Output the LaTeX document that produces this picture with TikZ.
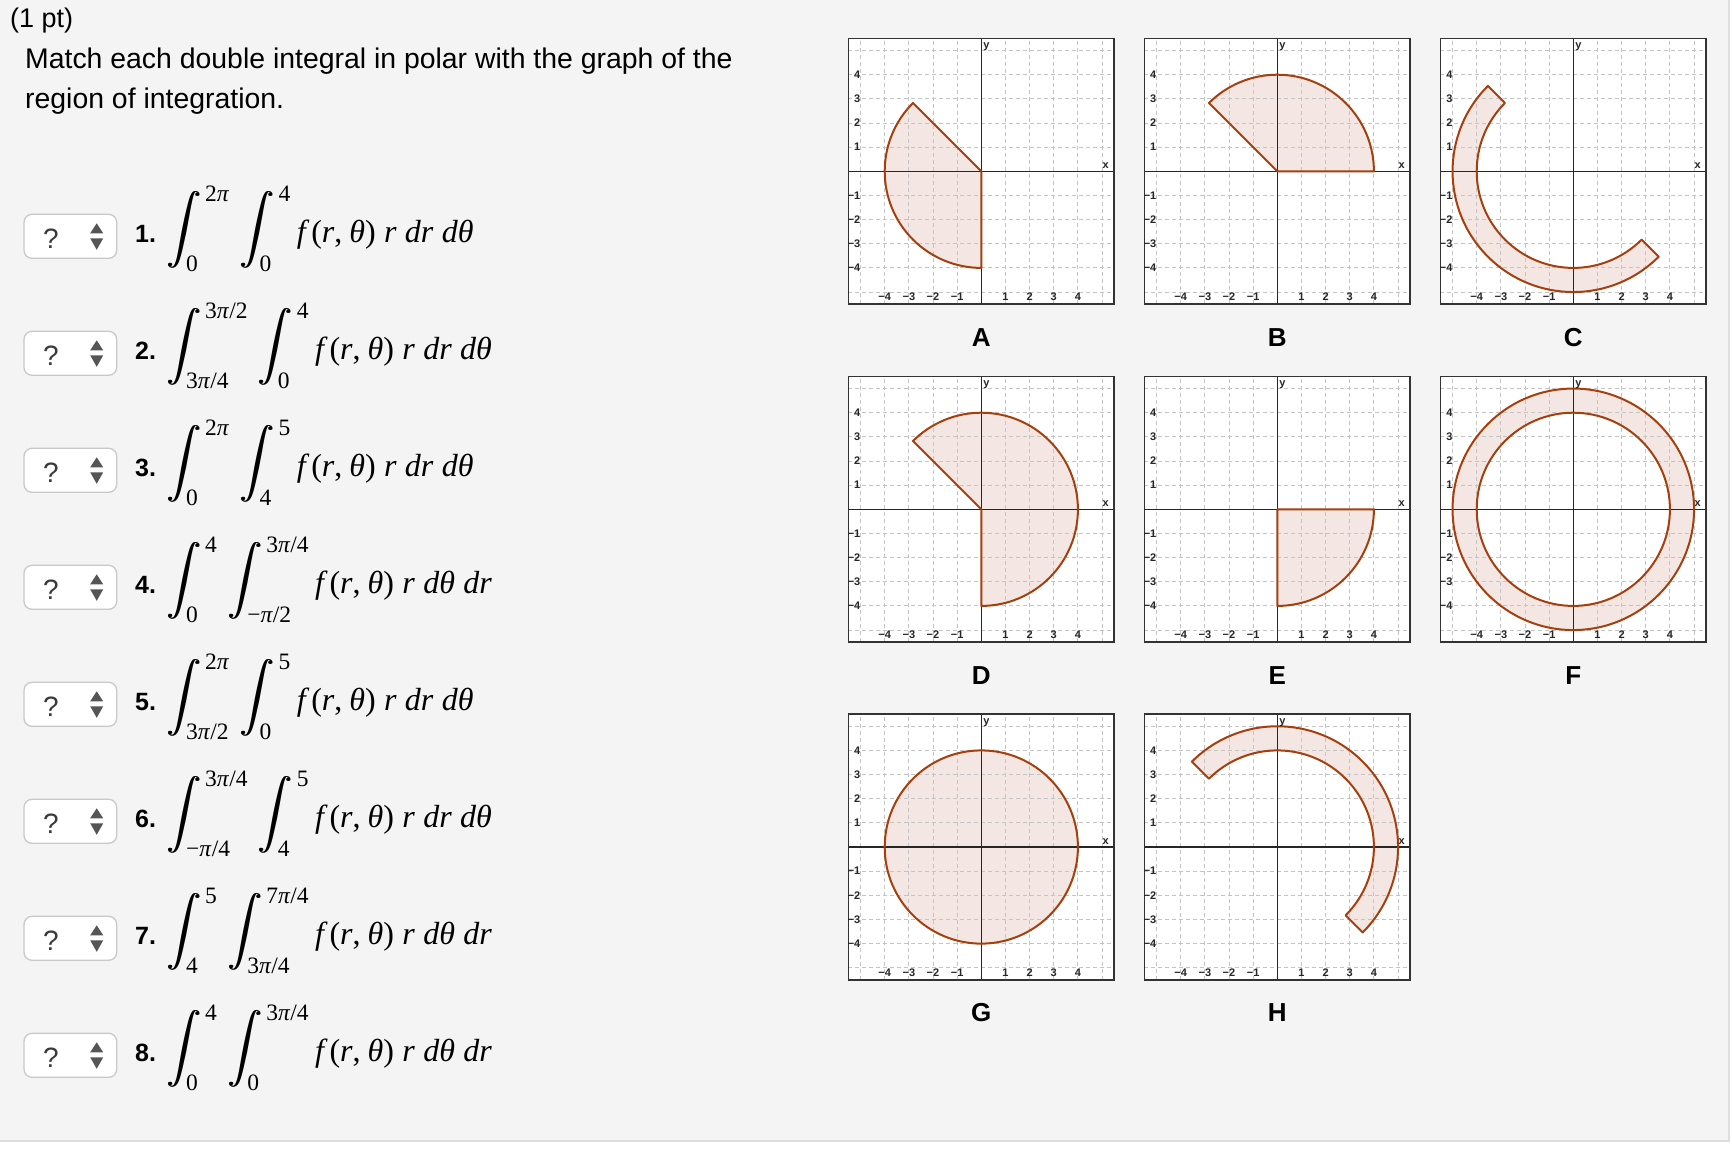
\documentclass[tikz,border=0pt]{standalone}
\usepackage{fontspec}
\setmainfont{Liberation Sans}
\newfontfamily\serifm{Liberation Serif}
\usepackage{graphicx}
\usetikzlibrary{calc}
\definecolor{bg}{HTML}{F4F4F4}
\definecolor{regfillc}{HTML}{F4E6E2}
\definecolor{reglinec}{HTML}{A5400E}
\definecolor{gridc}{HTML}{C4C4C4}
\definecolor{selborder}{HTML}{C9C9C9}
\definecolor{arrowc}{HTML}{555555}
\definecolor{qmark}{HTML}{3A3A3A}
\definecolor{edgec}{HTML}{DEDEDE}

\newcommand\oneint{\scalebox{3.45}{$\displaystyle\int$}}
\newcommand\bigint{\rlap{\oneint}\kern0.9pt\oneint}
\newcommand\pii{\textit{π}}
\newcommand\ig[2]{\textit{f}\kern0.06em(\textit{r},\hspace{0.22em}\textit{θ})\hspace{0.26em}\textit{r}\hspace{0.26em}\textit{#1}\hspace{0.26em}\textit{#2}}

\tikzset{
 qtext/.style={inner sep=0, font=\fontsize{28.4}{32}\selectfont},
 ptext/.style={inner sep=0, font=\fontsize{27}{32}\selectfont},
 selbox/.style={draw=selborder, fill=white, line width=1.3pt, rounded corners=8pt, minimum width=92.7pt, minimum height=44pt, inner sep=0},
 selq/.style={inner sep=0, text=qmark, font=\fontsize{28}{32}\selectfont},
 numl/.style={inner sep=0, font=\bfseries\fontsize{25}{30}\selectfont},
 ints/.style={inner sep=0},
 lim/.style={inner sep=0, font=\serifm\fontsize{23.5}{26}\selectfont},
 integ/.style={inner sep=0, font=\serifm\fontsize{32}{36}\selectfont},
 gridl/.style={draw=gridc, line width=1pt, dash pattern=on 4pt off 3pt},
 axisl/.style={draw=black!85, line width=1.1pt},
 boxl/.style={draw=black!80, line width=1.4pt},
 regfill/.style={fill=regfillc, even odd rule},
 regline/.style={draw=reglinec, line width=2pt, line join=round},
 tick/.style={inner sep=0, font=\bfseries\fontsize{11}{13}\selectfont, text=black!85},
 glabel/.style={inner sep=0, font=\bfseries\fontsize{26}{30}\selectfont},
}

\newcommand\polargraph[4]{%
\begin{scope}[shift={(#2,#3)}, x=24.15pt, y=24.15pt]
 \fill[white] (-5.5,-5.5) rectangle (5.5,5.5);
 \path[regfill] #4;
 \foreach \k in {-5,...,5}{\draw[gridl] (\k,-5.5) -- (\k,5.5); \draw[gridl] (-5.5,\k) -- (5.5,\k);}
 \draw[axisl] (-5.5,0) -- (5.5,0);
 \draw[axisl] (0,-5.5) -- (0,5.5);
 \path[regline] #4;
 \draw[boxl] (-5.5,-5.5) rectangle (5.5,5.5);
 \foreach \k/\lab [count=\i] in {-4/−4,-3/−3,-2/−2,-1/−1,1/1,2/2,3/3,4/4}{
   \node[tick] (#1x\i) at (\k,-5.2) {\lab};
   \node[tick, anchor=east] (#1y\i) at (-5.0,\k) {\lab};}
 \node[tick] (#1xl) at (5.15,0.22) {x};
 \node[tick, anchor=west] (#1yl) at (0.08,5.16) {y};
 \node[glabel] (#1lab) at (0,-6.87) {#1};
\end{scope}}

\newcommand\introw[7]{%
 \node[selbox] (sel#1) at (70.35,#2) {};
 \node[selq, anchor=base] (q#1) at (51,#2+12) {?};
 \fill[arrowc] (90.2,#2-3) -- (96.7,#2-13) -- (103.2,#2-3) -- cycle;
 \fill[arrowc] (90.2,#2+2) -- (96.7,#2+13.5) -- (103.2,#2+2) -- cycle;
 \node[numl, anchor=base west] (n#1) at (135,#2+6) {#1.};
 \node[ints, anchor=west] (ia#1) at (166,#2-6) {\bigint};
 \node[lim, anchor=base west] (ua#1) at (205,#2-35) {#4};
 \node[lim, anchor=base west] (la#1) at (186,#2+35) {#3};
 \path let \p1=(ua#1.east), \p2=(la#1.east), \n1={max(\x1,\x2)+10pt} in
   node[ints, anchor=west] (ib#1) at (\n1,#2-6) {\bigint};
 \node[lim, anchor=base west] (ub#1) at ($(ib#1.west)+(39,-29)$) {#6};
 \node[lim, anchor=base west] (lb#1) at ($(ib#1.west)+(20,41)$) {#5};
 \path let \p1=(ub#1.east), \p2=(lb#1.east), \n1={max(\x1,\x2)+6pt} in
   node[integ, anchor=base west] (ig#1) at (\n1,#2+6) {#7};
}

\begin{document}
\begin{tikzpicture}[x=1pt, y=-1pt]
\useasboundingbox (0,0) rectangle (1732,1160);
\fill[white] (0,0) rectangle (1732,1160);
\fill[bg] (0,0) rectangle (1729,1141);
\draw[edgec, line width=1.5pt] (0,1141) -- (1729,1141) -- (1729,0);

\node[ptext, anchor=base west] (pts) at (10,27) {(1 pt)};
\node[qtext, anchor=base west] (qa) at (25,68) {Match each double integral in polar with the graph of the};
\node[qtext, anchor=base west] (qb) at (25,108) {region of integration.};

\introw{1}{236.3}{0}{2\pii}{0}{4}{\ig{dr}{dθ}}
\introw{2}{353.3}{3\pii/4}{3\pii/2}{0}{4}{\ig{dr}{dθ}}
\introw{3}{470.3}{0}{2\pii}{4}{5}{\ig{dr}{dθ}}
\introw{4}{587.3}{0}{4}{−\pii/2}{3\pii/4}{\ig{dθ}{dr}}
\introw{5}{704.3}{3\pii/2}{2\pii}{0}{5}{\ig{dr}{dθ}}
\introw{6}{821.3}{−\pii/4}{3\pii/4}{4}{5}{\ig{dr}{dθ}}
\introw{7}{938.3}{4}{5}{3\pii/4}{7\pii/4}{\ig{dθ}{dr}}
\introw{8}{1055.3}{0}{4}{0}{3\pii/4}{\ig{dθ}{dr}}

\polargraph{A}{981.3}{171.3}{(0,0) -- (135:4) arc[start angle=135,end angle=270,radius=4] -- cycle}
\polargraph{B}{1277.3}{171.3}{(0,0) -- (0:4) arc[start angle=0,end angle=135,radius=4] -- cycle}
\polargraph{C}{1573.3}{171.3}{(135:5) arc[start angle=135,end angle=315,radius=5] -- (315:4) arc[start angle=315,end angle=135,radius=4] -- cycle}
\polargraph{D}{981.3}{509.3}{(0,0) -- (270:4) arc[start angle=270,end angle=495,radius=4] -- cycle}
\polargraph{E}{1277.3}{509.3}{(0,0) -- (270:4) arc[start angle=270,end angle=360,radius=4] -- cycle}
\polargraph{F}{1573.3}{509.3}{(0,0) circle[radius=5] (0,0) circle[radius=4]}
\polargraph{G}{981.3}{847}{(0,0) circle[radius=4]}
\polargraph{H}{1277.3}{847}{(-45:5) arc[start angle=-45,end angle=135,radius=5] -- (135:4) arc[start angle=135,end angle=-45,radius=4] -- cycle}
\end{tikzpicture}
\end{document}
